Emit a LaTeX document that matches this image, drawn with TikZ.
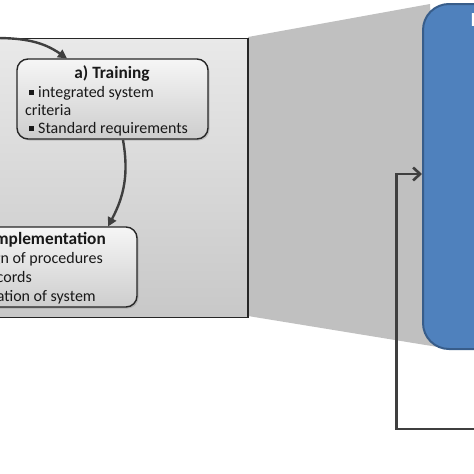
\documentclass[tikz,border=0pt]{standalone}
\usepackage{fontspec}
\setmainfont{Carlito}
\usetikzlibrary{arrows.meta,shadows}
\definecolor{panelTop}{HTML}{E9E9E9}
\definecolor{panelBot}{HTML}{C8C8C8}
\definecolor{boxTop}{HTML}{F6F6F6}
\definecolor{boxBot}{HTML}{CDCDCD}
\definecolor{trap}{HTML}{C0C0C0}
\definecolor{blueFill}{HTML}{4F81BD}
\definecolor{blueLine}{HTML}{385D8A}
\definecolor{lineGray}{HTML}{3F3F3F}
\newcommand{\sqbul}{\rule[2pt]{5pt}{5pt}\hspace{4pt}}
\tikzset{
  stagebox/.style={draw=black!85, line width=1.4pt, rounded corners=11pt,
    top color=boxTop, bottom color=boxBot, inner sep=0pt,
    drop shadow={shadow xshift=1.5pt, shadow yshift=-1.5pt, opacity=0.35}},
  bodytext/.style={font=\fontsize{16}{18}\selectfont, text=black!90, inner sep=0pt},
  titletext/.style={font=\fontsize{17.3}{18}\selectfont\bfseries, text=black!90, inner sep=0pt},
  curvearrow/.style={draw=lineGray, line width=2.4pt, -{Triangle[length=9pt,width=9pt]}},
  loopline/.style={draw=lineGray, line width=2.6pt, -{Straight Barb[length=7pt,width=13pt,line width=2.6pt]}}
}
\begin{document}
\begin{tikzpicture}[x=1pt,y=-1pt]
\useasboundingbox (0,0) rectangle (474,474);
\clip (0,0) rectangle (474,474);
% gray trapezoid behind
\fill[trap] (248,37) -- (430,4) -- (450,349) -- (248,316) -- cycle;
% panel
\node[draw=black!85, line width=1.4pt, top color=panelTop, bottom color=panelBot,
  minimum width=278pt, minimum height=279pt, inner sep=0pt, anchor=north east] (panel) at (248.5,37.5) {};
% blue box
\node[draw=blueLine, line width=2pt, fill=blueFill, rounded corners=26pt,
  minimum width=120pt, minimum height=345pt, inner sep=0pt, anchor=north west] (blue) at (422,3) {};
\node[font=\fontsize{20}{20}\selectfont\bfseries, text=white, anchor=base west, inner sep=0pt] (bluetitle) at (470.5,26) {I};
% training box
\node[stagebox, minimum width=191pt, minimum height=80pt] (train) at (112.5,99) {};
\node[titletext, anchor=base] (trainT) at (112,78) {a) Training};
\node[bodytext, anchor=base west] (trainL1) at (29,97) {\sqbul integrated system};
\node[bodytext, anchor=base west] (trainL2) at (25,115) {criteria};
\node[bodytext, anchor=base west] (trainL3) at (29,133) {\sqbul Standard requirements};
% implementation box
\node[stagebox, minimum width=200pt, minimum height=80pt] (impl) at (37,267) {};
\node[titletext, anchor=base east] (implT) at (106,244) {b) Implementation};
\node[bodytext, anchor=base east] (implL1) at (103,263) {\sqbul Design of procedures};
\node[bodytext, anchor=base east] (implL2) at (32,282) {\sqbul Records};
\node[bodytext, anchor=base east] (implL3) at (96,301) {\sqbul Validation of system};
% connectors
\coordinate (inStart) at (-5,38);
\coordinate (trainIn) at (67,58.5);
\draw[curvearrow] (inStart) to[out=0,in=145] (trainIn);
\coordinate (trainOut) at (123,140);
\coordinate (implIn) at (108,226.5);
\draw[curvearrow] (trainOut) to[out=-80,in=62] (implIn);
\coordinate (loopStart) at (480,429);
\coordinate (loopCorner) at (396.5,429);
\draw[loopline] (loopStart) -- (loopCorner) |- (blue.west |- 0,174);
\end{tikzpicture}
\end{document}
